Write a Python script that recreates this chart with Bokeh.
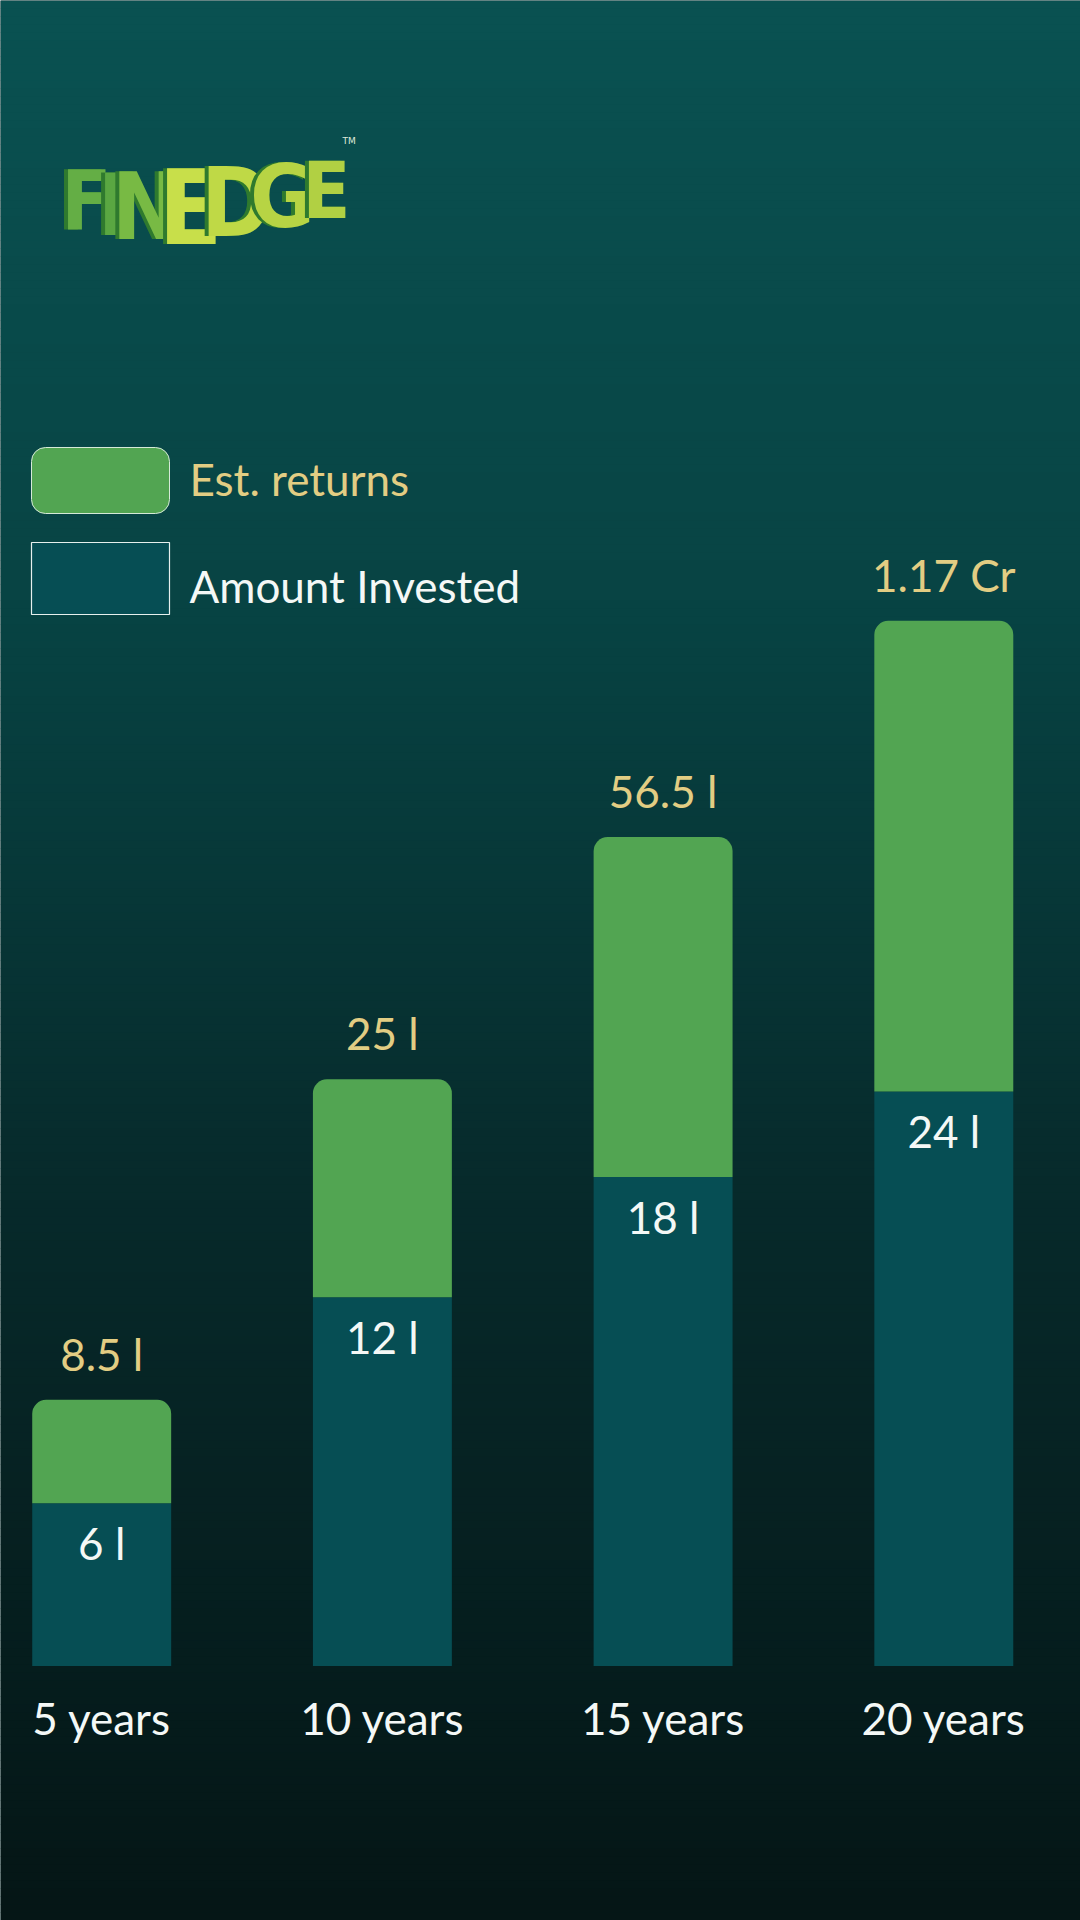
import numpy as np
from bokeh.plotting import figure
from bokeh.models import Range1d, LinearScale, ColumnDataSource
from bokeh.core.properties import value
from bokeh.embed import file_html
from bokeh.resources import INLINE

# ---------------- data ----------------
categories = ["5 years", "10 years", "15 years", "20 years"]
amount_invested = [6, 12, 18, 24]          # lakh
total_value = [8.5, 25, 56.5, 117]         # lakh (est. returns on top)
invested_labels = ["6 l", "12 l", "18 l", "24 l"]
total_labels = ["8.5 l", "25 l", "56.5 l", "1.17 Cr"]
legend_labels = ["Est. returns", "Amount Invested"]

# ---------------- styles ----------------
W, H = 1080, 1920
GREEN = "#52a552"
TEAL = "#064e54"
GOLD = "#e2cd83"
WHITE = "#f4f8f6"
FONT = "Lato"
FS = "44px"
BASE = 3.47  # baseline of the bars on the log axis

p = figure(width=W, height=H, output_backend="svg", toolbar_location=None,
           x_axis_location=None, y_axis_location=None, y_axis_type="log",
           x_range=Range1d(-0.3605, 3.487), y_range=Range1d(1.473, 944),
           min_border=0, outline_line_color=None, background_fill_color="#072b2c",
           border_fill_color="#072b2c")
p.grid.visible = False
p.extra_x_ranges = {"px": Range1d(0, W)}
p.extra_y_ranges = {"px": Range1d(H, 0)}
p.extra_x_scales = {"px": LinearScale()}
p.extra_y_scales = {"px": LinearScale()}

# background gradient (decorative, screen-pixel space)
stops_y = [0, 600, 1200, 1920]
stops_c = [(10, 82, 82), (8, 68, 68), (7, 42, 43), (5, 22, 22)]
edges = np.arange(0, H + 8, 8)
cols = []
for e in edges[:-1]:
    yy = e + 4
    r = int(np.interp(yy, stops_y, [c[0] for c in stops_c]))
    g = int(np.interp(yy, stops_y, [c[1] for c in stops_c]))
    b = int(np.interp(yy, stops_y, [c[2] for c in stops_c]))
    cols.append("#%02x%02x%02x" % (r, g, b))
p.quad(left=0, right=W, top=edges[:-1], bottom=edges[1:] + 0.5, fill_color=cols,
       line_color=None, x_range_name="px", y_range_name="px")

# ---------------- bars ----------------
xs = list(range(len(categories)))
src = ColumnDataSource(dict(x=xs, invested=amount_invested, total=total_value,
                            inv_lab=invested_labels, tot_lab=total_labels, cat=categories))
p.vbar(x="x", width=0.495, bottom=BASE, top="invested", source=src,
       fill_color=TEAL, line_color=None)
p.vbar(x="x", width=0.495, bottom="invested", top="total", source=src,
       fill_color=GREEN, line_color=None, border_radius=(14, 14, 0, 0))

p.text(x="x", y="total", text="tot_lab", source=src, text_color=GOLD,
       text_font=value(FONT), text_font_size=value(FS),
       text_align="center", text_baseline="bottom", y_offset=-20)
p.text(x="x", y="invested", text="inv_lab", source=src, text_color=WHITE,
       text_font=value(FONT), text_font_size=value(FS),
       text_align="center", text_baseline="top", y_offset=14)
p.text(x="x", y=BASE, text="cat", source=src, text_color=WHITE,
       text_font=value(FONT), text_font_size=value(FS),
       text_align="center", text_baseline="top", y_offset=26)

# ---------------- legend ----------------
p.quad(left=[31], right=[169], top=[447], bottom=[513], fill_color=GREEN,
       line_color="#d6ead8", line_width=1, border_radius=14,
       x_range_name="px", y_range_name="px")
p.quad(left=[31], right=[169], top=[542], bottom=[614], fill_color=TEAL,
       line_color="#e6f0ee", line_width=1.2,
       x_range_name="px", y_range_name="px")
p.text(x=[189], y=[478], text=[legend_labels[0]], text_color=GOLD,
       text_font=value(FONT), text_font_size=value(FS),
       text_baseline="alphabetic", x_range_name="px", y_range_name="px")
p.text(x=[189], y=[585], text=[legend_labels[1]], text_color=WHITE,
       text_font=value(FONT), text_font_size=value(FS),
       text_baseline="alphabetic", x_range_name="px", y_range_name="px")

# ---------------- logo ----------------
logo_font = value("'Liberation Sans Narrow', 'DejaVu Sans Condensed', sans-serif")
letters = ["F", "I", "N", "E", "D", "G", "E"]
lx = [86, 112, 146, 190, 236, 282, 326]
ly = [200, 204, 207, 207, 202, 196, 190]
lsize = [82, 86, 92, 104, 96, 88, 78]
lcol = ["#64ae45", "#5aa742", "#78ba44", "#c8df4a", "#bfd946", "#b7d444", "#b1d043"]
for ch, x0, y0, s, c in zip(letters, lx, ly, lsize, lcol):
    p.text(x=[x0 - 4], y=[y0], text=[ch], text_color="#2f7a2e",
           text_font=logo_font, text_font_style="bold",
           text_font_size=value(f"{s}px"), text_align="center",
           text_baseline="alphabetic", x_range_name="px", y_range_name="px")
    p.text(x=[x0], y=[y0], text=[ch], text_color=c,
           text_font=logo_font, text_font_style="bold",
           text_font_size=value(f"{s}px"), text_align="center",
           text_baseline="alphabetic", x_range_name="px", y_range_name="px")
p.text(x=[342], y=[140], text=["TM"], text_color="#dfe8d8",
       text_font=value("DejaVu Sans"), text_font_size=value("9px"),
       text_baseline="alphabetic", x_range_name="px", y_range_name="px")

open("out.html", "w").write(file_html(p, INLINE))
